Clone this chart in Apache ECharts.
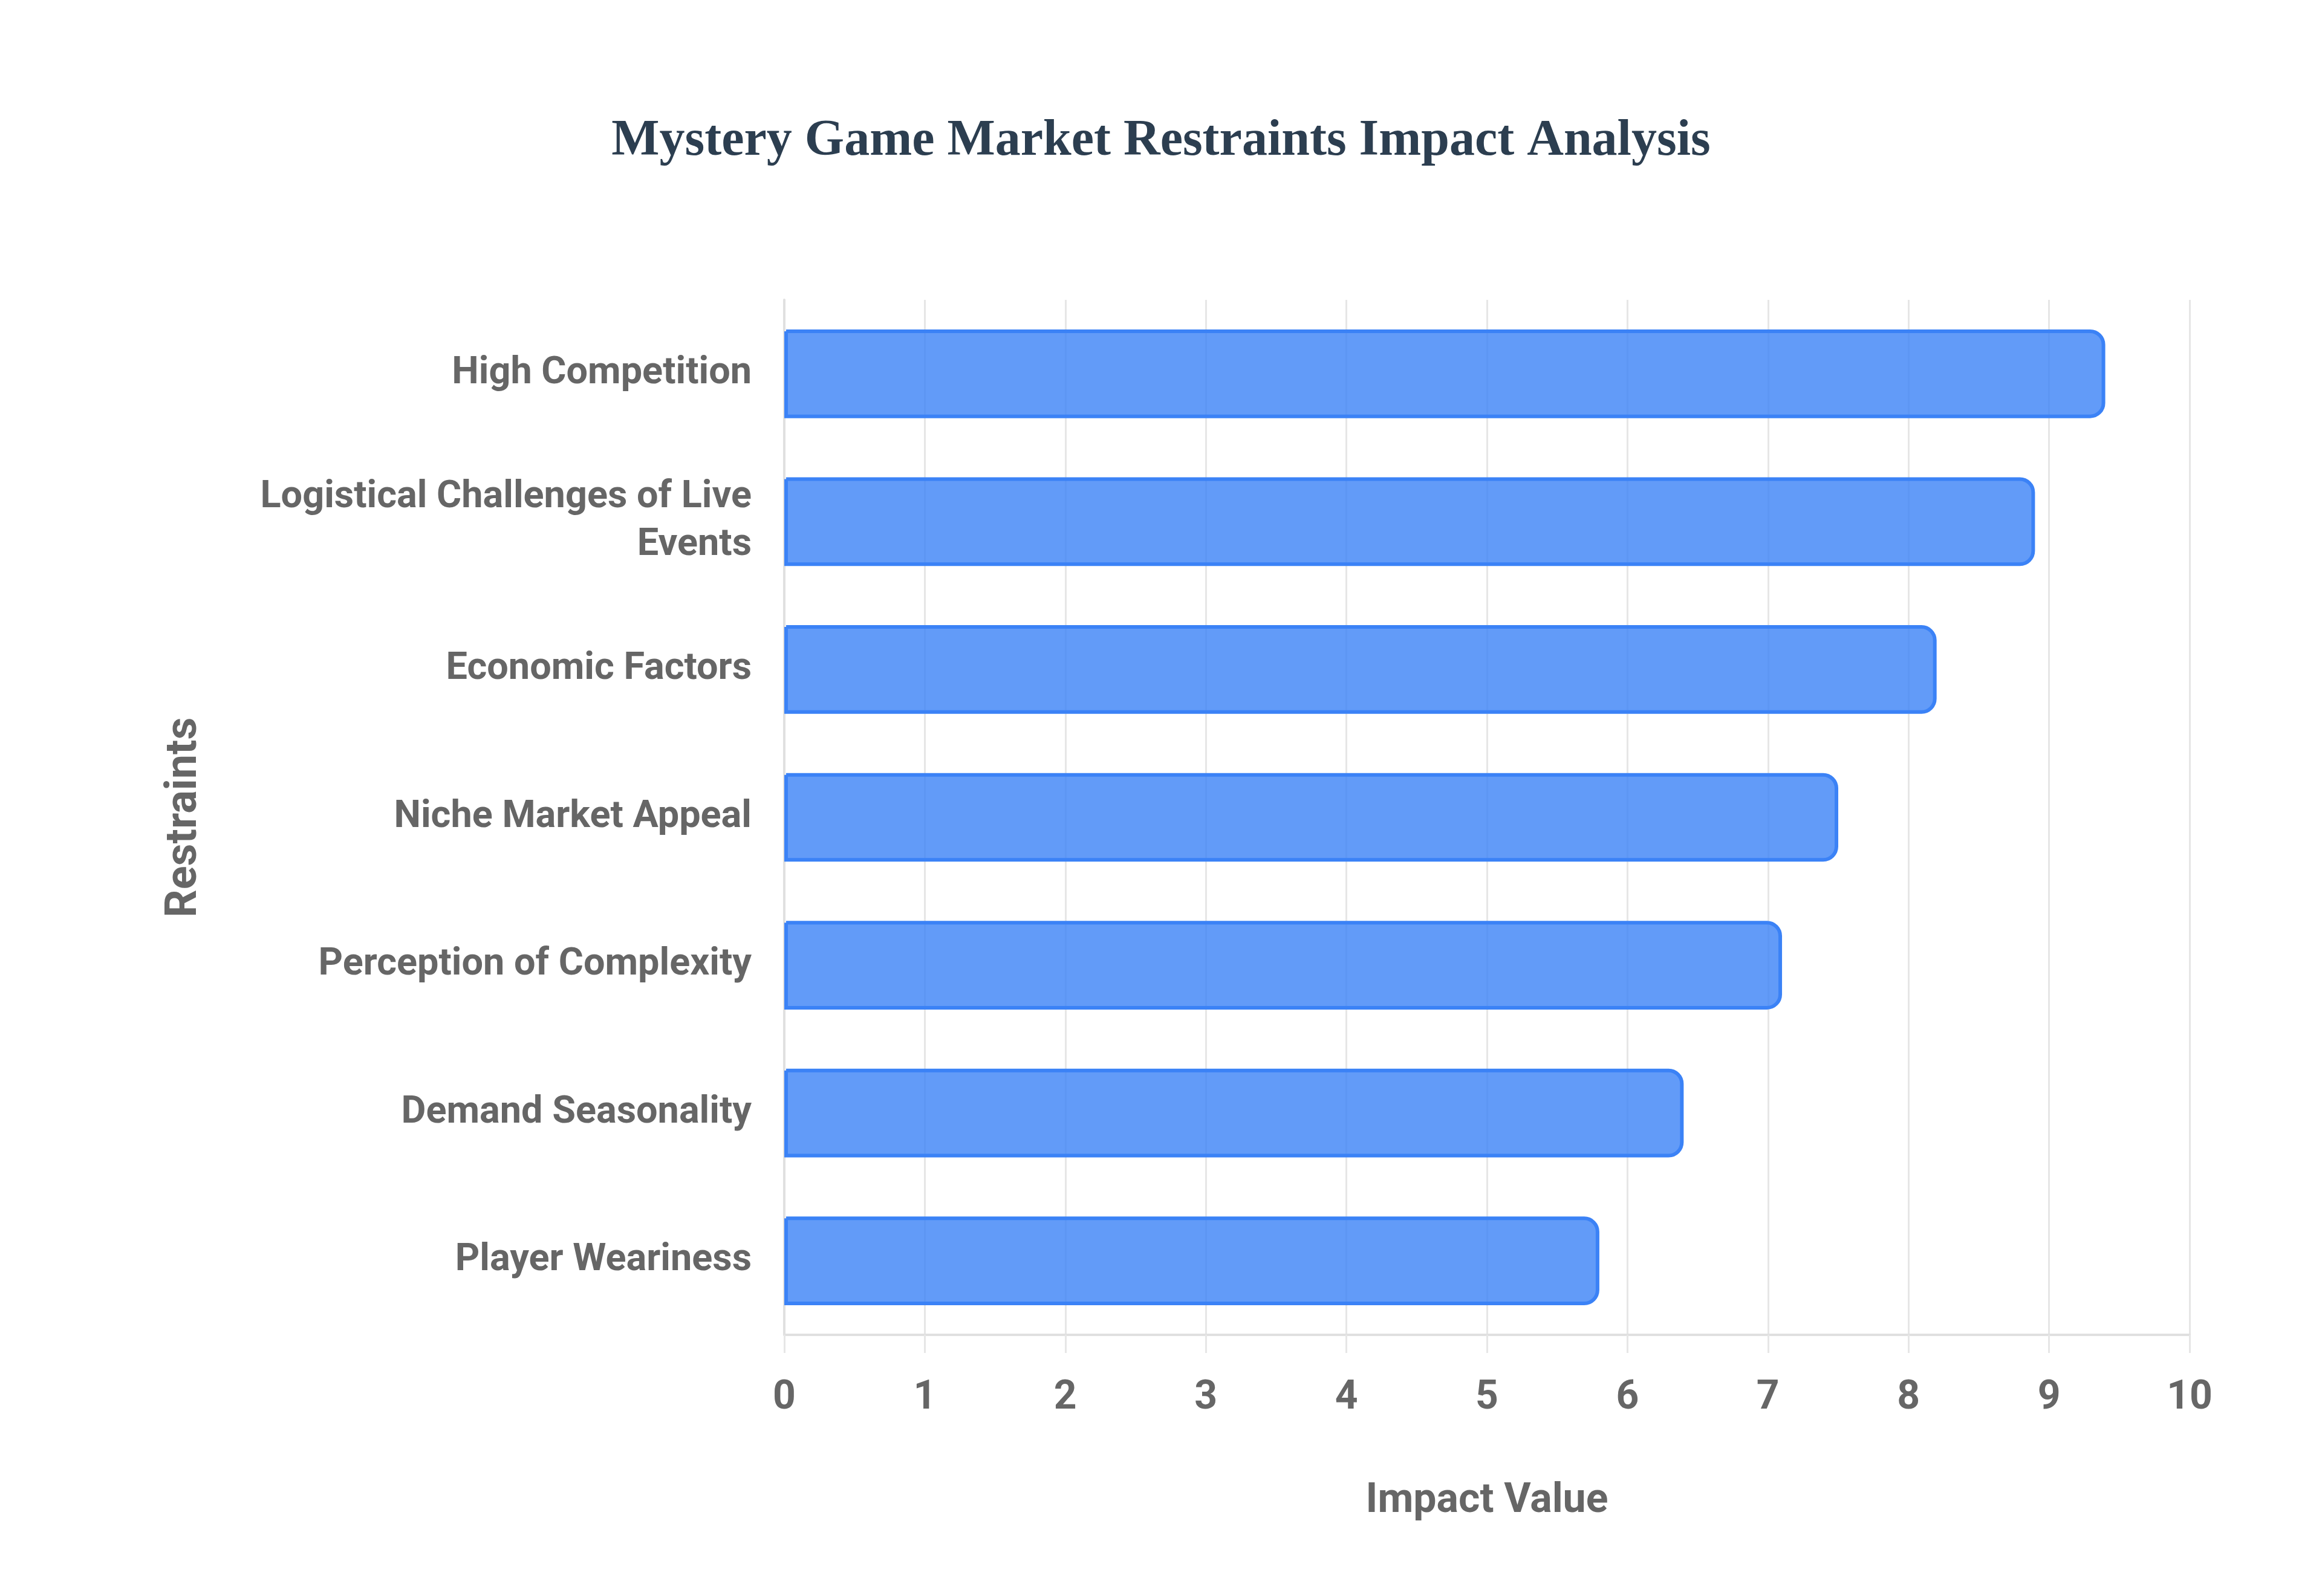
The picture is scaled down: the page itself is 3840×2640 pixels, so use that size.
<!DOCTYPE html>
<html>
<head>
<meta charset="utf-8">
<script src="https://cdn.jsdelivr.net/npm/echarts@6/dist/echarts.min.js"></script>
<style>
  html, body { margin: 0; padding: 0; background: #ffffff; }
  #chart { width: 3840px; height: 2640px; }
</style>
</head>
<body>
<div id="chart"></div>
<script>
const chartTitle = "Mystery Game Market Restraints Impact Analysis";
const categories = [
  "High Competition",
  "Logistical Challenges of Live Events",
  "Economic Factors",
  "Niche Market Appeal",
  "Perception of Complexity",
  "Demand Seasonality",
  "Player Weariness"
];
const impactValues = [9.4, 8.9, 8.2, 7.5, 7.1, 6.4, 5.8];
const xAxisName = "Impact Value";
const yAxisName = "Restraints";

function wrapLabel(text, maxChars) {
  const words = text.split(' ');
  const lines = [];
  let cur = '';
  words.forEach(w => {
    const trial = cur ? cur + ' ' + w : w;
    if (trial.length > maxChars && cur) { lines.push(cur); cur = w; }
    else { cur = trial; }
  });
  if (cur) lines.push(cur);
  return lines.join('\n');
}

const chart = echarts.init(document.getElementById('chart'), null, { renderer: 'canvas' });
const sans = "Roboto, 'Liberation Sans', Arial, sans-serif";
const gridColor = '#e6e6e6';

chart.setOption({
  backgroundColor: '#ffffff',
  animation: false,
  title: {
    text: chartTitle,
    left: 'center',
    top: 192,
    padding: 0,
    textStyle: {
      fontFamily: "'Liberation Serif', 'Times New Roman', serif",
      fontWeight: 'bold',
      fontSize: 84,
      color: '#2c3e50'
    }
  },
  grid: { left: 1297, right: 219, top: 496, bottom: 432, containLabel: false },
  xAxis: {
    type: 'value',
    min: 0,
    max: 10,
    interval: 1,
    name: xAxisName,
    nameLocation: 'middle',
    nameGap: 242,
    nameTextStyle: { fontFamily: sans, fontWeight: 'bold', fontSize: 68, color: '#666666' },
    axisLine: { show: true, lineStyle: { color: '#e0e0e0', width: 4 } },
    axisTick: { show: true, length: 30, lineStyle: { color: gridColor, width: 3 } },
    axisLabel: { fontFamily: sans, fontWeight: 'bold', fontSize: 66, color: '#666666', margin: 72 },
    splitLine: { show: true, lineStyle: { color: gridColor, width: 3 } }
  },
  yAxis: {
    type: 'category',
    inverse: true,
    data: categories,
    name: yAxisName,
    nameLocation: 'middle',
    nameGap: 955,
    nameTextStyle: { fontFamily: sans, fontWeight: 'bold', fontSize: 72, color: '#666666' },
    axisLine: { show: true, lineStyle: { color: '#e0e0e0', width: 4 } },
    axisTick: { show: false },
    splitLine: { show: false },
    axisLabel: {
      fontFamily: sans, fontWeight: 'bold', fontSize: 63, color: '#666666',
      margin: 54, lineHeight: 79, align: 'right',
      formatter: (v) => wrapLabel(v, 30)
    }
  },
  series: [{
    type: 'bar',
    data: impactValues,
    barCategoryGap: '40%',
    itemStyle: {
      color: 'rgba(59,130,246,0.8)',
      borderColor: '#3b82f6',
      borderWidth: 6,
      borderRadius: [0, 22, 22, 0]
    }
  }]
});
</script>
</body>
</html>
